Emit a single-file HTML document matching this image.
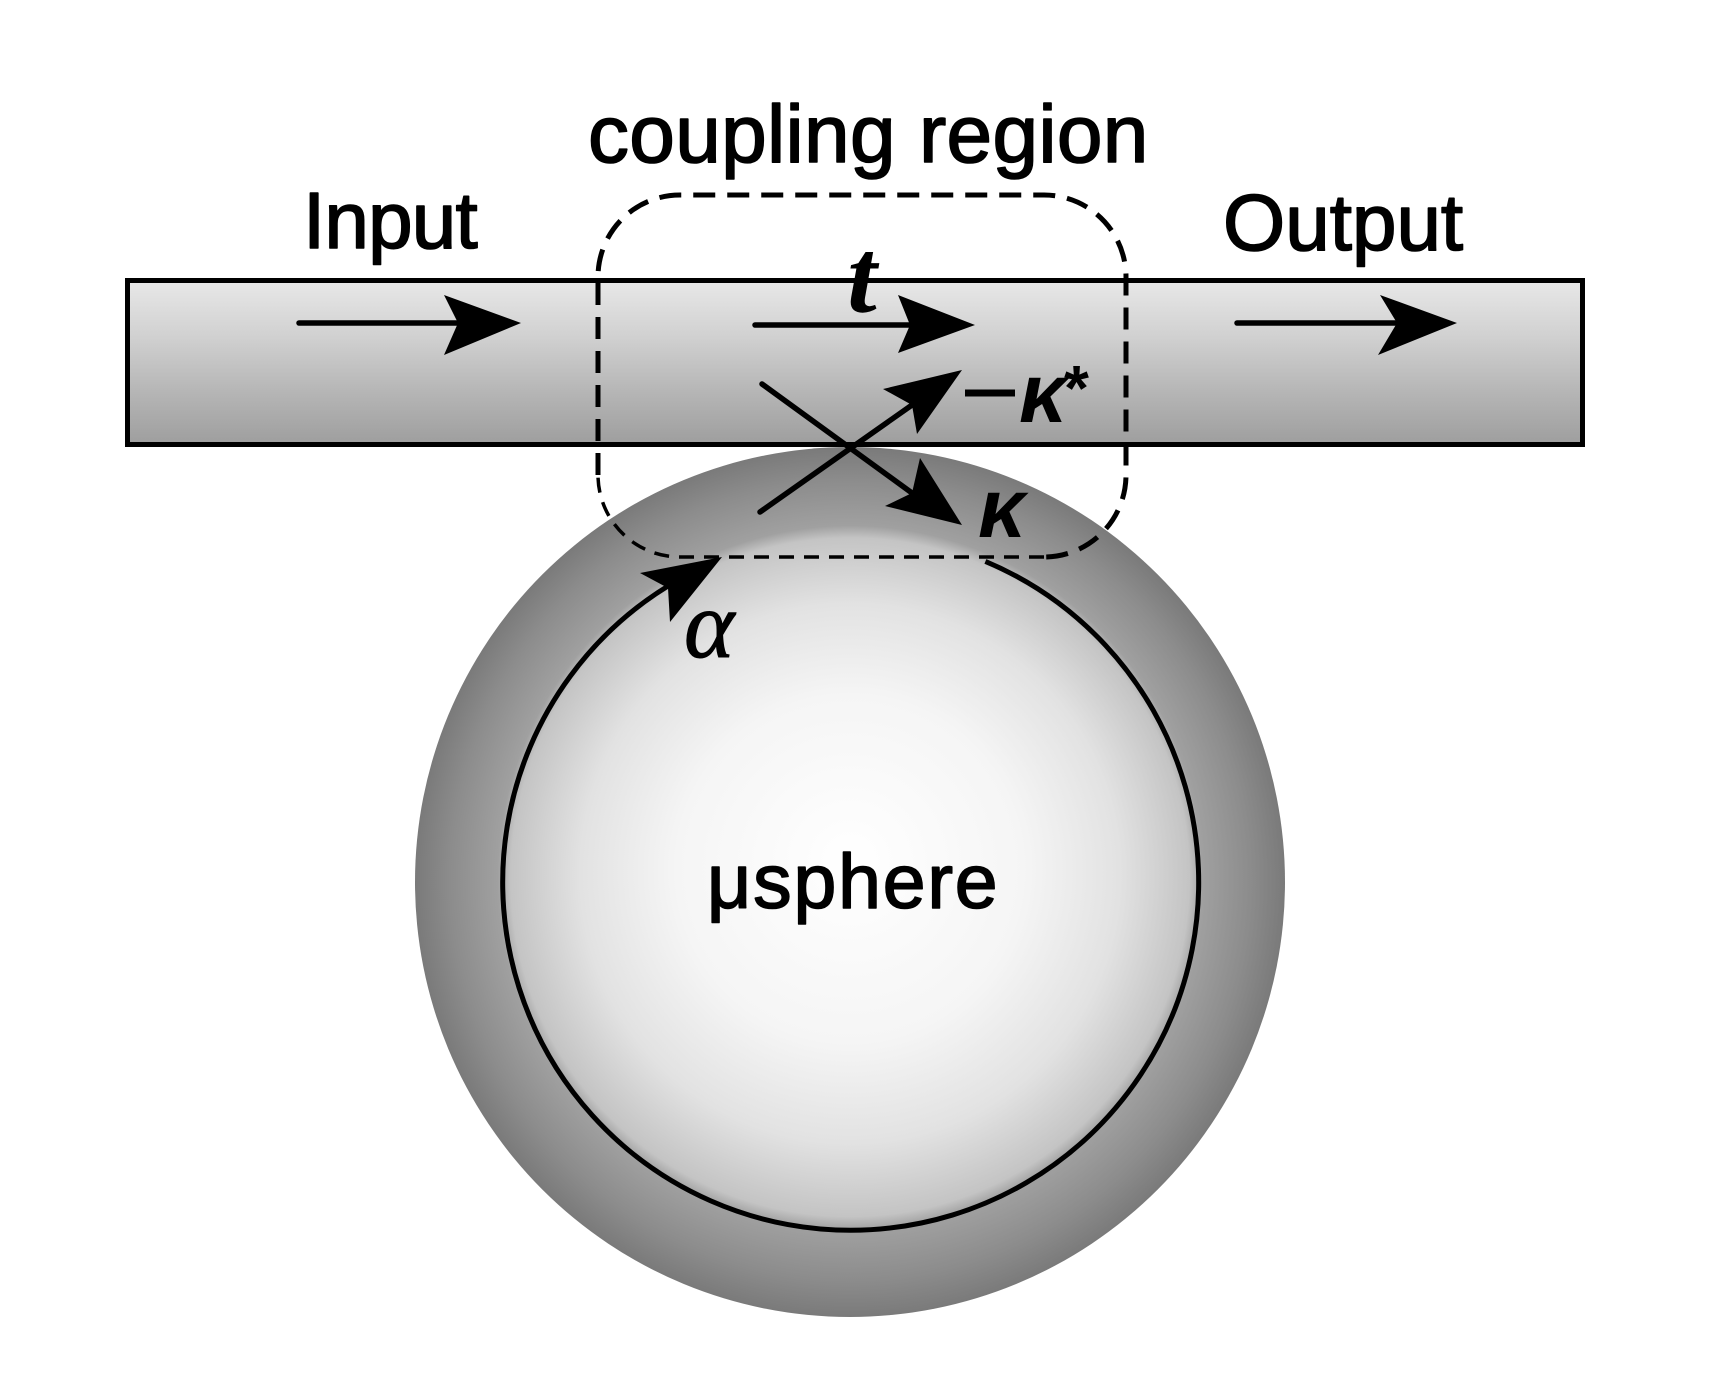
<!DOCTYPE html>
<html>
<head>
<meta charset="utf-8">
<style>
  html, body { margin: 0; padding: 0; background: #ffffff; }
  svg { display: block; }
</style>
</head>
<body>
<svg width="1724" height="1376" viewBox="0 0 1724 1376" xmlns="http://www.w3.org/2000/svg">
  <defs>
    <linearGradient id="wg" x1="0" y1="0" x2="0" y2="1">
      <stop offset="0" stop-color="#e8e8e8"/>
      <stop offset="0.35" stop-color="#d0d0d0"/>
      <stop offset="0.7" stop-color="#b4b4b4"/>
      <stop offset="1" stop-color="#9e9e9e"/>
    </linearGradient>
    <radialGradient id="sp" gradientUnits="userSpaceOnUse" cx="850" cy="882" r="435" fx="850" fy="860">
      <stop offset="0" stop-color="#ffffff"/>
      <stop offset="0.4" stop-color="#f5f5f5"/>
      <stop offset="0.62" stop-color="#e2e2e2"/>
      <stop offset="0.78" stop-color="#c4c4c4"/>
      <stop offset="0.81" stop-color="#a0a0a0"/>
      <stop offset="0.92" stop-color="#8c8c8c"/>
      <stop offset="1" stop-color="#7a7a7a"/>
    </radialGradient>
  </defs>

  <!-- sphere -->
  <circle cx="850" cy="882" r="435" fill="url(#sp)"/>

  <!-- waveguide -->
  <rect x="127.5" y="280.5" width="1455" height="164" fill="url(#wg)" stroke="#000" stroke-width="5"/>

  <!-- inner circulating mode arc -->
  <path d="M 985.4 561.4 A 348 348 0 1 1 680 579" fill="none" stroke="#000" stroke-width="5"/>
  <polygon points="722,557 640,573 668,588 670,622" fill="#000"/>

  <!-- coupling region dashed box -->
  <path d="M 598 475 L 598 277 A 82 82 0 0 1 680 195 L 1044 195 A 82 82 0 0 1 1126 277 L 1126 475 A 82 82 0 0 1 1044 557"
        fill="none" stroke="#000" stroke-width="5" stroke-dasharray="22 12"/>
  <path d="M 1044 557 L 680 557 A 82 82 0 0 1 598 475"
        fill="none" stroke="#000" stroke-width="3.5" stroke-dasharray="15 10"/>

  <!-- Input arrow -->
  <line x1="299" y1="323" x2="460" y2="323" stroke="#000" stroke-width="5.5" stroke-linecap="round"/>
  <polygon points="521,323 444,295 458,323 444,355" fill="#000"/>

  <!-- t arrow -->
  <line x1="755" y1="325" x2="912" y2="325" stroke="#000" stroke-width="5.5" stroke-linecap="round"/>
  <polygon points="975,325 898,295 910,325 898,353" fill="#000"/>

  <!-- Output arrow -->
  <line x1="1237" y1="323" x2="1399" y2="323" stroke="#000" stroke-width="5.5" stroke-linecap="round"/>
  <polygon points="1457,323 1380,295 1397,323 1378,355" fill="#000"/>

  <!-- crossing arrows -->
  <line x1="762" y1="384" x2="912" y2="493" stroke="#000" stroke-width="5.5" stroke-linecap="round"/>
  <polygon points="962,525 885,506 912,493 920,458" fill="#000"/>
  <line x1="760" y1="512" x2="912" y2="405" stroke="#000" stroke-width="5.5" stroke-linecap="round"/>
  <polygon points="962,370 883,389 912,405 917,434" fill="#000"/>

  <!-- minus sign -->
  <line x1="965" y1="393" x2="1015" y2="393" stroke="#000" stroke-width="7"/>

  <!-- labels -->
  <g fill="#000" stroke="#000" stroke-width="1.6" stroke-linejoin="round">
    <text x="588" y="162" font-family="Liberation Sans, Arial, sans-serif" font-size="82" letter-spacing="0.3">coupling region</text>
    <text x="303" y="248" font-family="Liberation Sans, Arial, sans-serif" font-size="80" letter-spacing="-0.8">Input</text>
    <text x="1223" y="250" font-family="Liberation Sans, Arial, sans-serif" font-size="80">Output</text>
    <text x="707" y="908" font-family="Liberation Sans, DejaVu Sans, sans-serif" font-size="77" letter-spacing="1.8">μsphere</text>
  </g>
  <text x="862" y="312" font-family="Liberation Serif, serif" font-style="italic" font-weight="bold" font-size="106" text-anchor="middle" fill="#000">t</text>
  <text x="1019" y="422" font-family="Liberation Sans, DejaVu Sans, sans-serif" font-style="italic" font-weight="bold" font-size="84" fill="#000">κ</text>
  <text x="1064" y="410" font-family="Liberation Sans, sans-serif" font-weight="bold" font-size="64" fill="#000">*</text>
  <text x="978" y="537" font-family="Liberation Sans, DejaVu Sans, sans-serif" font-style="italic" font-weight="bold" font-size="84" fill="#000">κ</text>
  <text x="684" y="657" font-family="Liberation Serif, DejaVu Serif, serif" font-style="italic" font-size="96" fill="#000" stroke="#000" stroke-width="1">α</text>
</svg>
</body>
</html>
